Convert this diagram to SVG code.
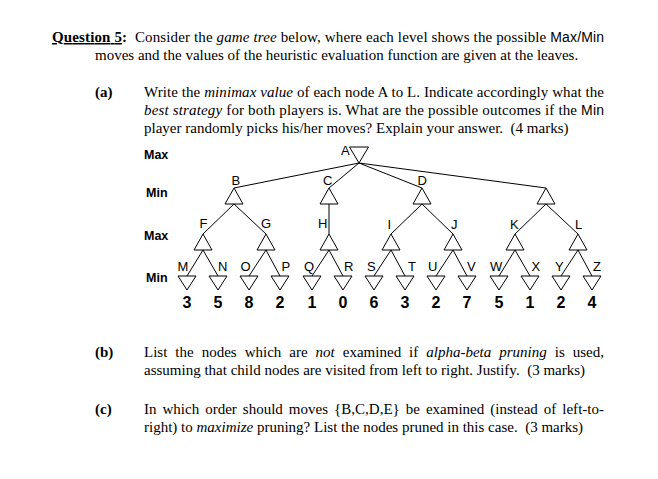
<svg xmlns="http://www.w3.org/2000/svg" xmlns:xlink="http://www.w3.org/1999/xlink" width="658" height="479" viewBox="0 0 658 479">
<style>
.tri{fill:#fff;stroke:#000;stroke-width:1}
.edge{stroke:#000;stroke-width:1;fill:none}
.lbl{font-family:"Liberation Sans",Arial,sans-serif;font-size:13px;fill:#000}
.val{font-family:"Liberation Sans",Arial,sans-serif;font-size:16px;font-weight:bold;text-anchor:middle;fill:#000}
.lvl{font-family:"Liberation Sans",Arial,sans-serif;font-size:12.5px;font-weight:bold;fill:#000}
.body{font-family:"Liberation Serif","Times New Roman",serif;font-size:15px;fill:#000}
.b{font-weight:bold}
.i{font-style:italic}
.s{font-family:"Liberation Sans",Arial,sans-serif;font-size:14px}
</style>
<defs>
<polygon id="up" class="tri" points="0,0 -9,16 9,16"/>
<polygon id="down" class="tri" points="-9,0 9,0 0,14"/>
<polygon id="root" class="tri" points="-9.5,0 9.5,0 0,16"/>
</defs>
<rect width="658" height="479" fill="#fff"/>

<g id="question-text" class="body">
<text x="52" y="42" textLength="552" lengthAdjust="spacing"><tspan class="b" text-decoration="underline">Question 5</tspan><tspan class="b">:</tspan>&#160; Consider the <tspan class="i">game tree</tspan> below, where each level shows the possible <tspan class="s">Max/Min</tspan></text>
<text x="95" y="60">moves and the values of the heuristic evaluation function are given at the leaves.</text>
<text x="95" y="97" class="b">(a)</text>
<text x="144" y="97" textLength="460" lengthAdjust="spacing">Write the <tspan class="i">minimax value</tspan> of each node A to L. Indicate accordingly what the</text>
<text x="144" y="115" textLength="460" lengthAdjust="spacing"><tspan class="i">best strategy</tspan> for both players is. What are the possible outcomes if the <tspan class="s">Min</tspan></text>
<text x="144" y="133">player randomly picks his/her moves? Explain your answer.&#160; (4 marks)</text>
<text x="95" y="357" class="b">(b)</text>
<text x="144" y="357" word-spacing="4.2" textLength="460" lengthAdjust="spacing">List the nodes which are <tspan class="i">not</tspan> examined if <tspan class="i">alpha-beta pruning</tspan> is used,</text>
<text x="144" y="375">assuming that child nodes are visited from left to right. Justify.&#160; (3 marks)</text>
<text x="95" y="414" class="b">(c)</text>
<text x="144" y="414" word-spacing="2.2" textLength="460" lengthAdjust="spacing">In which order should moves {B,C,D,E} be examined (instead of left-to-</text>
<text x="144" y="432">right) to <tspan class="i">maximize</tspan> pruning? List the nodes pruned in this case.&#160; (3 marks)</text>
</g>

<g id="level-labels" class="lvl">
<text x="144" y="159">Max</text>
<text x="146" y="197">Min</text>
<text x="144" y="240">Max</text>
<text x="146" y="282">Min</text>
</g>

<g id="connectors" class="edge">
<line x1="359" y1="163" x2="234" y2="188"/>
<line x1="359" y1="163" x2="329" y2="188"/>
<line x1="359" y1="163" x2="422" y2="188"/>
<line x1="359" y1="163" x2="546" y2="188"/>
<line x1="234" y1="204" x2="203" y2="234"/>
<line x1="234" y1="204" x2="266" y2="234"/>
<line x1="329" y1="204" x2="329" y2="234"/>
<line x1="422" y1="204" x2="391" y2="234"/>
<line x1="422" y1="204" x2="453" y2="234"/>
<line x1="546" y1="204" x2="515" y2="234"/>
<line x1="546" y1="204" x2="578" y2="234"/>
<line x1="203" y1="250" x2="187" y2="276"/>
<line x1="203" y1="250" x2="218" y2="276"/>
<line x1="266" y1="250" x2="249" y2="276"/>
<line x1="266" y1="250" x2="280" y2="276"/>
<line x1="329" y1="250" x2="312" y2="276"/>
<line x1="329" y1="250" x2="343" y2="276"/>
<line x1="391" y1="250" x2="374" y2="276"/>
<line x1="391" y1="250" x2="405" y2="276"/>
<line x1="453" y1="250" x2="436" y2="276"/>
<line x1="453" y1="250" x2="467" y2="276"/>
<line x1="515" y1="250" x2="499" y2="276"/>
<line x1="515" y1="250" x2="530" y2="276"/>
<line x1="578" y1="250" x2="561" y2="276"/>
<line x1="578" y1="250" x2="592" y2="276"/>
</g>

<g id="node-A"><use xlink:href="#root" x="359" y="147"/><text class="lbl" x="341" y="155">A</text></g>
<g id="node-B"><use xlink:href="#up" x="234" y="188"/><text class="lbl" x="231.5" y="185">B</text></g>
<g id="node-C"><use xlink:href="#up" x="329" y="188"/><text class="lbl" x="323" y="185">C</text></g>
<g id="node-D"><use xlink:href="#up" x="422" y="188"/><text class="lbl" x="417.5" y="185">D</text></g>
<g id="node-E"><use xlink:href="#up" x="546" y="188"/></g>

<g id="node-F"><use xlink:href="#up" x="203" y="234"/><text class="lbl" x="199.5" y="228">F</text></g>
<g id="node-G"><use xlink:href="#up" x="266" y="234"/><text class="lbl" x="261" y="228">G</text></g>
<g id="node-H"><use xlink:href="#up" x="329" y="234"/><text class="lbl" x="318" y="228">H</text></g>
<g id="node-I"><use xlink:href="#up" x="391" y="234"/><text class="lbl" x="387.5" y="229">I</text></g>
<g id="node-J"><use xlink:href="#up" x="453" y="234"/><text class="lbl" x="451" y="229">J</text></g>
<g id="node-K"><use xlink:href="#up" x="515" y="234"/><text class="lbl" x="510" y="229">K</text></g>
<g id="node-L"><use xlink:href="#up" x="578" y="234"/><text class="lbl" x="575" y="229">L</text></g>

<g id="node-M"><use xlink:href="#down" x="187" y="276"/><text class="lbl" x="177.5" y="271">M</text><text class="val" x="187" y="308">3</text></g>
<g id="node-N"><use xlink:href="#down" x="218" y="276"/><text class="lbl" x="218" y="271">N</text><text class="val" x="218" y="308">5</text></g>
<g id="node-O"><use xlink:href="#down" x="249" y="276"/><text class="lbl" x="240.5" y="271">O</text><text class="val" x="249" y="308">8</text></g>
<g id="node-P"><use xlink:href="#down" x="280" y="276"/><text class="lbl" x="281.5" y="271">P</text><text class="val" x="280" y="308">2</text></g>
<g id="node-Q"><use xlink:href="#down" x="312" y="276"/><text class="lbl" x="304" y="271">Q</text><text class="val" x="312" y="308">1</text></g>
<g id="node-R"><use xlink:href="#down" x="343" y="276"/><text class="lbl" x="344" y="271">R</text><text class="val" x="343" y="308">0</text></g>
<g id="node-S"><use xlink:href="#down" x="374" y="276"/><text class="lbl" x="367" y="271">S</text><text class="val" x="374" y="308">6</text></g>
<g id="node-T"><use xlink:href="#down" x="405" y="276"/><text class="lbl" x="408" y="271">T</text><text class="val" x="405" y="308">3</text></g>
<g id="node-U"><use xlink:href="#down" x="436" y="276"/><text class="lbl" x="428" y="271">U</text><text class="val" x="436" y="308">2</text></g>
<g id="node-V"><use xlink:href="#down" x="467" y="276"/><text class="lbl" x="467" y="271">V</text><text class="val" x="467" y="308">7</text></g>
<g id="node-W"><use xlink:href="#down" x="499" y="276"/><text class="lbl" x="490" y="271">W</text><text class="val" x="499" y="308">5</text></g>
<g id="node-X"><use xlink:href="#down" x="530" y="276"/><text class="lbl" x="531.5" y="271">X</text><text class="val" x="530" y="308">1</text></g>
<g id="node-Y"><use xlink:href="#down" x="561" y="276"/><text class="lbl" x="555" y="271">Y</text><text class="val" x="561" y="308">2</text></g>
<g id="node-Z"><use xlink:href="#down" x="592" y="276"/><text class="lbl" x="593" y="271">Z</text><text class="val" x="592" y="308">4</text></g>
</svg>
